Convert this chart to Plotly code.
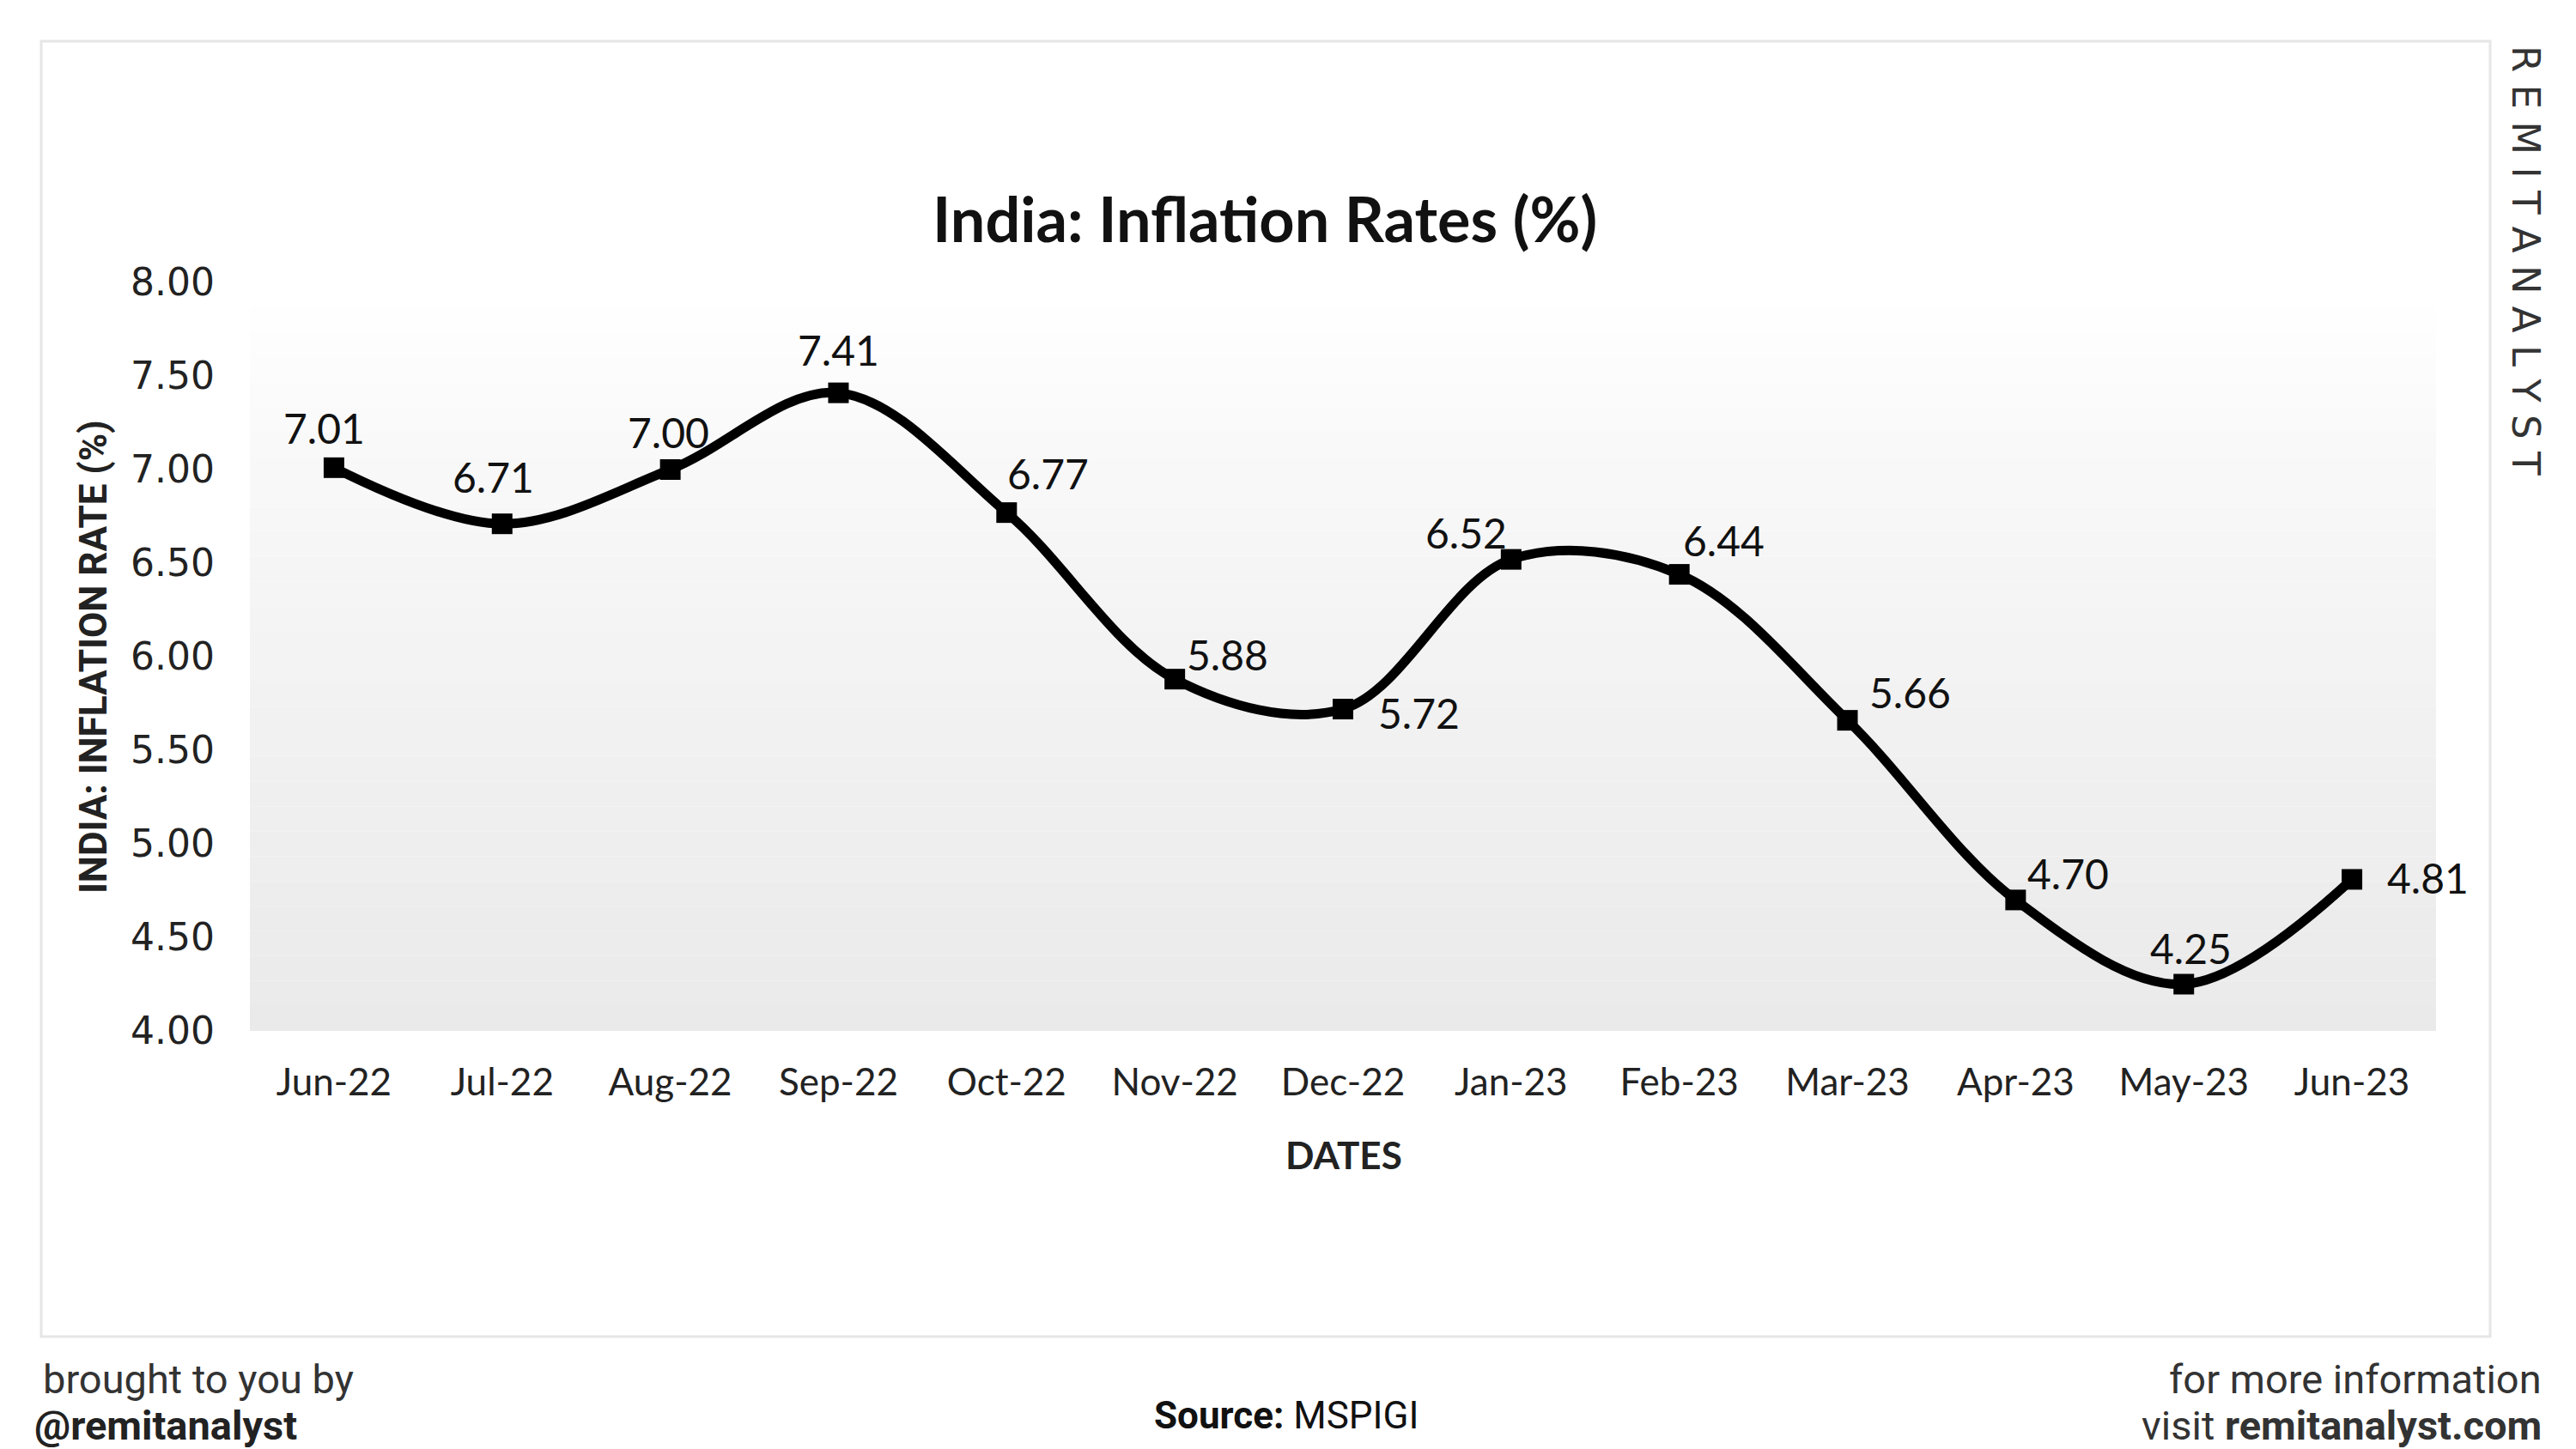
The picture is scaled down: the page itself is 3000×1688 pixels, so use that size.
import plotly.graph_objects as go

months = ["Jun-22", "Jul-22", "Aug-22", "Sep-22", "Oct-22", "Nov-22", "Dec-22",
          "Jan-23", "Feb-23", "Mar-23", "Apr-23", "May-23", "Jun-23"]
inflation = [7.01, 6.71, 7.00, 7.41, 6.77, 5.88, 5.72, 6.52, 6.44, 5.66, 4.70, 4.25, 4.81]
y_ticks = [4.0, 4.5, 5.0, 5.5, 6.0, 6.5, 7.0, 7.5, 8.0]

# label offsets (style only), in pixels
label_dx = [-11, -10, -2, 0, 48, 61, 88, -52, 52, 73, 61, 8, 88]
label_dy = [46, 55, 44, 50, 46, 29, -4, 31, 40, 33, 31, 42, 2]

W, H = 3000, 1688
L, R, T, B = 291, 2837, 329, 1201

fig = go.Figure()
fig.add_trace(go.Scatter(
    x=months, y=inflation, mode="lines+markers",
    line=dict(color="black", width=11, shape="spline", smoothing=1.0),
    marker=dict(symbol="square", size=24, color="black"),
    hoverinfo="x+y", showlegend=False,
))

annotations = []
for m, v, dx, dy in zip(months, inflation, label_dx, label_dy):
    annotations.append(dict(x=m, y=v, xref="x", yref="y", text=f"{v:.2f}",
                            showarrow=False, xshift=dx, yshift=dy,
                            font=dict(family="Lato", size=48, color="#111")))

# paper coordinates are relative to the plot area
def ptx(px):
    return (px - L) / (R - L)

def pty(py):
    return (B - py) / (B - T)

annotations += [
    dict(text="<b>India: Inflation Rates (%)</b>", x=ptx(1473), y=pty(254), xref="paper", yref="paper",
         showarrow=False, font=dict(family="Lato", size=72, color="#111"), xanchor="center", yanchor="middle"),
    dict(text="<b>DATES</b>", x=ptx(1565), y=pty(1345), xref="paper", yref="paper",
         showarrow=False, font=dict(family="Lato", size=44, color="#222"), xanchor="center", yanchor="middle"),
    dict(text="<b>INDIA: INFLATION RATE (%)</b>", x=ptx(109), y=pty(765), xref="paper", yref="paper",
         textangle=-90, showarrow=False, font=dict(family="Roboto", size=44, color="#222"),
         xanchor="center", yanchor="middle"),
    dict(text="R E M I T A N A L Y S T", x=ptx(2942), y=pty(304), xref="paper", yref="paper",
         textangle=90, showarrow=False, font=dict(family="DejaVu Sans", size=45, color="#333"),
         xanchor="center", yanchor="middle"),
    dict(text="brought to you by", x=ptx(48), y=pty(1606), xref="paper", yref="paper", showarrow=False,
         font=dict(family="Roboto", size=47, color="#333"), xanchor="left", yanchor="middle"),
    dict(text="<b>@remitanalyst</b>", x=ptx(38), y=pty(1660), xref="paper", yref="paper", showarrow=False,
         font=dict(family="Roboto", size=47, color="#222"), xanchor="left", yanchor="middle"),
    dict(text="<b>Source:</b> MSPIGI", x=ptx(1498), y=pty(1649), xref="paper", yref="paper", showarrow=False,
         font=dict(family="Roboto", size=44, color="#111"), xanchor="center", yanchor="middle"),
    dict(text="for more information", x=ptx(2962), y=pty(1606), xref="paper", yref="paper", showarrow=False,
         font=dict(family="Roboto", size=47, color="#333"), xanchor="right", yanchor="middle"),
    dict(text="visit <b>remitanalyst.com</b>", x=ptx(2962), y=pty(1660), xref="paper", yref="paper", showarrow=False,
         font=dict(family="Roboto", size=47, color="#333"), xanchor="right", yanchor="middle"),
]

shapes = [dict(type="rect", xref="paper", yref="paper", x0=ptx(48), x1=ptx(2900), y0=pty(1557), y1=pty(48),
               line=dict(color="#e6e6e6", width=3), fillcolor="rgba(0,0,0,0)", layer="below")]
# vertical gradient in plot background
n = 30
for i in range(n):
    t = i / (n - 1)
    g = int(round(255 - 21 * t ** 0.8))
    shapes.append(dict(type="rect", xref="x domain", yref="y domain", x0=0, x1=1,
                       y0=1 - (i + 1) / n, y1=1 - i / n, line=dict(width=0),
                       fillcolor=f"rgb({g},{g},{g})", layer="below"))

fig.update_layout(
    width=W, height=H,
    margin=dict(l=L, r=W - R, t=T, b=H - B, pad=0),
    paper_bgcolor="white", plot_bgcolor="rgba(0,0,0,0)",
    annotations=annotations, shapes=shapes,
    xaxis=dict(type="category", range=[-0.5, 12.5], showgrid=False, zeroline=False, showline=False,
               ticks="", tickfont=dict(family="Lato", size=44, color="#222"), ticklabelstandoff=30),
    yaxis=dict(range=[4, 8], tickvals=y_ticks, tickformat=".2f", showgrid=False, zeroline=False,
               showline=False, ticks="", tickfont=dict(family="DejaVu Sans", size=44, color="#222"),
               ticklabelstandoff=40),
    font=dict(family="Lato"),
)

fig.write_html("out.html", config={"displayModeBar": False},
               post_script="document.body.style.margin='0';document.body.style.overflow='hidden';")
